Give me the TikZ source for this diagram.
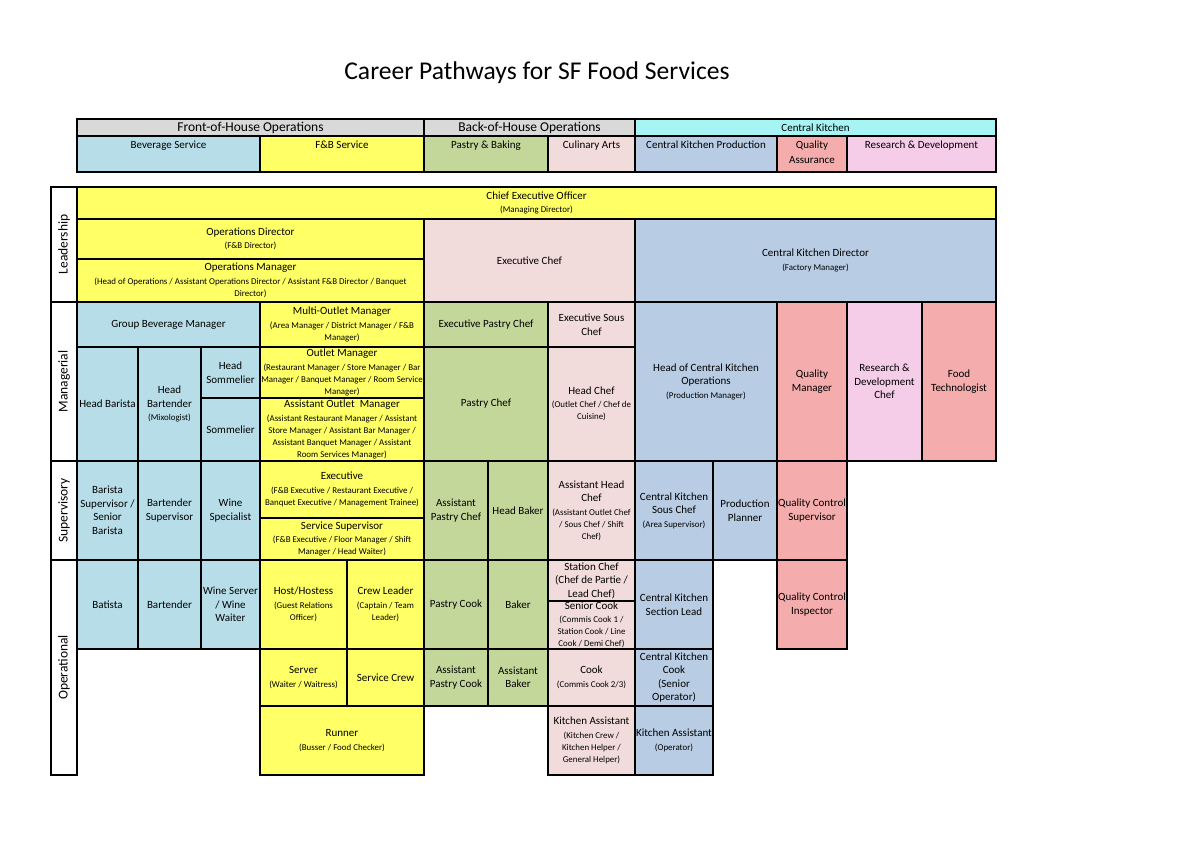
\documentclass[tikz,border=0pt]{standalone}
\usepackage{fontspec}
\setmainfont{Carlito}
\definecolor{bev}{HTML}{B7DEE8}
\definecolor{yel}{HTML}{FFFF66}
\definecolor{pas}{HTML}{C4D79B}
\definecolor{cul}{HTML}{F2DCDB}
\definecolor{ckb}{HTML}{B8CCE4}
\definecolor{qa}{HTML}{F4ACAC}
\definecolor{rd}{HTML}{F5CDE8}
\definecolor{hgr}{HTML}{D9D9D9}
\definecolor{hcy}{HTML}{A6F4F4}
\tikzset{
  cellbox/.style={draw=black, line width=1.2pt, inner sep=0pt, align=center, font=\fontsize{11}{13.5}\selectfont},
  toptext/.style={anchor=north, inner sep=0pt, align=center, font=\fontsize{11}{15}\selectfont},
  lvltext/.style={rotate=90, inner sep=0pt, font=\fontsize{13.5}{16}\selectfont}
}
\newcommand\subt[1]{{\fontsize{8.9}{11}\selectfont #1}}
\newcommand\cell[7]{%
  \pgfmathsetmacro\cw{#4-#2}\pgfmathsetmacro\ch{#5-#3}%
  \pgfmathsetmacro\cx{(#2+#4)/2}\pgfmathsetmacro\cy{(#3+#5)/2}%
  \node[cellbox, fill=#6, minimum width=\cw pt, minimum height=\ch pt] (#1) at (\cx,\cy) {#7};}
\begin{document}
\begin{tikzpicture}[x=1pt,y=-1pt]
\useasboundingbox (0,0) rectangle (1200,848);
\node[font=\fontsize{25.6}{30}\selectfont, inner sep=0pt] (title) at (537,72.5) {Career Pathways for SF Food Services};
% header row 1
\cell{foh}{77}{119}{424}{136}{hgr}{\fontsize{13.5}{15}\selectfont Front-of-House Operations}
\cell{boh}{424}{119}{635}{136}{hgr}{\fontsize{13.5}{15}\selectfont Back-of-House Operations}
\cell{ckh}{635}{119}{996}{136}{hcy}{Central Kitchen}
% header row 2
\cell{hbev}{77}{136}{260}{172}{bev}{}
\cell{hfb}{260}{136}{424}{172}{yel}{}
\cell{hpas}{424}{136}{548}{172}{pas}{}
\cell{hcul}{548}{136}{635}{172}{cul}{}
\cell{hckp}{635}{136}{777}{172}{ckb}{}
\cell{hqa}{777}{136}{847}{172}{qa}{}
\cell{hrd}{847}{136}{996}{172}{rd}{}
\node[toptext] (thbev) at (168.5,140.5) {Beverage Service};
\node[toptext] (thfb) at (342,140.5) {F\&B Service};
\node[toptext] (thpas) at (486,140.5) {Pastry \& Baking};
\node[toptext] (thcul) at (591.5,140.5) {Culinary Arts};
\node[toptext] (thckp) at (706,140.5) {Central Kitchen Production};
\node[toptext] (thqa) at (812,140.5) {Quality\\Assurance};
\node[toptext] (thrd) at (921.5,140.5) {Research \& Development};
% level labels
\cell{lv1}{51}{187}{77}{302}{white}{}
\cell{lv2}{51}{302}{77}{461}{white}{}
\cell{lv3}{51}{461}{77}{560}{white}{}
\cell{lv4}{51}{560}{77}{775}{white}{}
\node[lvltext] (lv1t) at (lv1) {Leadership};
\node[lvltext] (lv2t) at (lv2) {Managerial};
\node[lvltext] (lv3t) at (lv3) {Supervisory};
\node[lvltext] (lv4t) at (lv4) {Operational};
% leadership
\cell{ceo}{77}{187}{996}{219}{yel}{Chief Executive Officer\\\subt{(Managing Director)}}
\cell{opd}{77}{219}{424}{259}{yel}{Operations Director\\\subt{(F\&B Director)}}
\cell{opm}{77}{259}{424}{302}{yel}{Operations Manager\\\subt{(Head of Operations / Assistant Operations Director / Assistant F\&B Director / Banquet}\\[-1.5pt]\subt{Director)}}
\cell{exc}{424}{219}{635}{302}{cul}{Executive Chef}
\cell{ckd}{635}{219}{996}{302}{ckb}{Central Kitchen Director\\\subt{(Factory Manager)}}
% managerial
\cell{gbm}{77}{302}{260}{347}{bev}{Group Beverage Manager}
\cell{mom}{260}{302}{424}{347}{yel}{Multi-Outlet Manager\\\subt{(Area Manager / District Manager / F\&B}\\[-1.5pt]\subt{Manager)}}
\cell{epc}{424}{302}{548}{347}{pas}{Executive Pastry Chef}
\cell{esc}{548}{302}{635}{347}{cul}{Executive Sous\\Chef}
\cell{hcko}{635}{302}{777}{461}{ckb}{Head of Central Kitchen\\Operations\\\subt{(Production Manager)}}
\cell{qm}{777}{302}{847}{461}{qa}{Quality\\Manager}
\cell{rdc}{847}{302}{922}{461}{rd}{Research \&\\Development\\Chef}
\cell{ft}{922}{302}{996}{461}{qa}{Food\\Technologist}
\cell{hbar}{77}{347}{138}{461}{bev}{Head Barista}
\cell{hbt}{138}{347}{201}{461}{bev}{Head\\Bartender\\\subt{(Mixologist)}}
\cell{hsom}{201}{347}{260}{398}{bev}{Head\\Sommelier}
\cell{som}{201}{398}{260}{461}{bev}{Sommelier}
\cell{om}{260}{347}{424}{398}{yel}{Outlet Manager\\\subt{(Restaurant Manager / Store Manager / Bar}\\[-1.5pt]\subt{Manager / Banquet Manager / Room Service}\\[-1.5pt]\subt{Manager)}}
\cell{aom}{260}{398}{424}{461}{yel}{Assistant Outlet\ \ Manager\\\subt{(Assistant Restaurant Manager / Assistant}\\[-1.5pt]\subt{Store Manager / Assistant Bar Manager /}\\[-1.5pt]\subt{Assistant Banquet Manager / Assistant}\\[-1.5pt]\subt{Room Services Manager)}}
\cell{pc}{424}{347}{548}{461}{pas}{Pastry Chef}
\cell{hc}{548}{347}{635}{461}{cul}{Head Chef\\\subt{(Outlet Chef / Chef de}\\[-1.5pt]\subt{Cuisine)}}
% supervisory
\cell{bs}{77}{461}{138}{560}{bev}{Barista\\Supervisor /\\Senior\\Barista}
\cell{bts}{138}{461}{201}{560}{bev}{Bartender\\Supervisor}
\cell{ws}{201}{461}{260}{560}{bev}{Wine\\Specialist}
\cell{exe}{260}{461}{424}{518}{yel}{Executive\\\subt{(F\&B Executive / Restaurant Executive /}\\[-1.5pt]\subt{Banquet Executive / Management Trainee)}}
\cell{ss}{260}{518}{424}{560}{yel}{Service Supervisor\\\subt{(F\&B Executive / Floor Manager / Shift}\\[-1.5pt]\subt{Manager / Head Waiter)}}
\cell{apc}{424}{461}{488}{560}{pas}{Assistant\\Pastry Chef}
\cell{hb}{488}{461}{548}{560}{pas}{Head Baker}
\cell{ahc}{548}{461}{635}{560}{cul}{Assistant Head\\Chef\\\subt{(Assistant Outlet Chef}\\[-1.5pt]\subt{/ Sous Chef / Shift}\\[-1.5pt]\subt{Chef)}}
\cell{cksc}{635}{461}{713}{560}{ckb}{Central Kitchen\\Sous Chef\\\subt{(Area Supervisor)}}
\cell{pp}{713}{461}{777}{560}{ckb}{Production\\Planner}
\cell{qcs}{777}{461}{847}{560}{qa}{Quality Control\\Supervisor}
% operational
\cell{bat}{77}{560}{138}{649}{bev}{Batista}
\cell{bt}{138}{560}{201}{649}{bev}{Bartender}
\cell{wsv}{201}{560}{260}{649}{bev}{Wine Server\\/ Wine\\Waiter}
\cell{hh}{260}{560}{347}{649}{yel}{Host/Hostess\\\subt{(Guest Relations}\\[-1.5pt]\subt{Officer)}}
\cell{cl}{347}{560}{424}{649}{yel}{Crew Leader\\\subt{(Captain / Team}\\[-1.5pt]\subt{Leader)}}
\cell{srv}{260}{649}{347}{706}{yel}{Server\\\subt{(Waiter / Waitress)}}
\cell{sc}{347}{649}{424}{706}{yel}{Service Crew}
\cell{run}{260}{706}{424}{775}{yel}{Runner\\\subt{(Busser / Food Checker)}}
\cell{pck}{424}{560}{488}{649}{pas}{Pastry Cook}
\cell{bak}{488}{560}{548}{649}{pas}{Baker}
\cell{apck}{424}{649}{488}{706}{pas}{Assistant\\Pastry Cook}
\cell{abak}{488}{649}{548}{706}{pas}{Assistant\\Baker}
\cell{stc}{548}{560}{635}{601}{cul}{Station Chef\\(Chef de Partie /\\Lead Chef)}
\cell{snc}{548}{601}{635}{649}{cul}{Senior Cook\\\subt{(Commis Cook 1 /}\\[-1.5pt]\subt{Station Cook / Line}\\[-1.5pt]\subt{Cook / Demi Chef)}}
\cell{cook}{548}{649}{635}{706}{cul}{Cook\\\subt{(Commis Cook 2/3)}}
\cell{ka}{548}{706}{635}{775}{cul}{Kitchen Assistant\\\subt{(Kitchen Crew /}\\[-1.5pt]\subt{Kitchen Helper /}\\[-1.5pt]\subt{General Helper)}}
\cell{cksl}{635}{560}{713}{649}{ckb}{Central Kitchen\\Section Lead}
\cell{ckc}{635}{649}{713}{706}{ckb}{Central Kitchen\\Cook\\(Senior\\Operator)}
\cell{kao}{635}{706}{713}{775}{ckb}{Kitchen Assistant\\\subt{(Operator)}}
\cell{qci}{777}{560}{847}{649}{qa}{Quality Control\\Inspector}
\end{tikzpicture}
\end{document}
